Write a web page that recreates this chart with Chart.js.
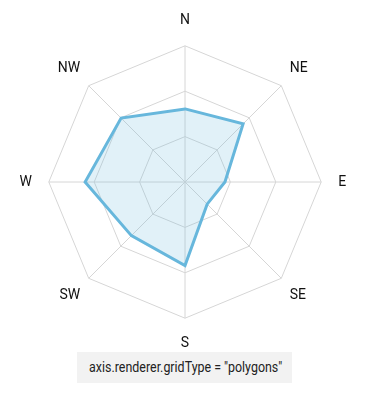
<!DOCTYPE html>
<html lang="en">
<head>
  <meta charset="UTF-8" />
  <title>Radar polygons</title>
  <script src="https://cdn.jsdelivr.net/npm/chart.js"></script>
  <style>
    body {
      margin: 0;
      width: 368px;
      height: 401px;
      background: #fff;
      position: relative;
      overflow: hidden;
      font-family: 'Roboto', sans-serif;
    }

    #wrap {
      position: absolute;
      left: 13px;
      top: 13px;
      width: 340px;
      height: 340px;
    }

    #wrap canvas {
      display: block;
    }

    .caption {
      position: absolute;
      left: 77px;
      top: 352px;
      width: 215px;
      height: 31px;
      line-height: 31px;
      background: #f2f2f2;
      color: #222;
      font-size: 14px;
      text-align: center;
      white-space: nowrap;
    }

    .caption span {
      display: inline-block;
      transform-origin: center;
    }
  </style>
</head>
<body>
  <div id="wrap"><canvas id="radar" width="340" height="340"></canvas></div>
  <div class="caption"><span id="capText">axis.renderer.gridType = "polygons"</span></div>

  <script>
    const directions = ['N', 'NE', 'E', 'SE', 'S', 'SW', 'W', 'NW'];
    const values = [1.61, 1.81, 0.88, 0.69, 1.84, 1.67, 2.2, 1.99];
    const ringTicks = [0, 1, 2, 3];

    // the caption font in the original is a narrow face, squeeze roboto to the same width
    const cap = document.getElementById('capText');
    cap.style.transform = 'scaleX(' + (193 / cap.offsetWidth).toFixed(3) + ')';

    const ctx = document.getElementById('radar').getContext('2d');
    new Chart(ctx, {
      type: 'radar',
      data: {
        labels: directions,
        datasets: [{
          data: values,
          borderColor: '#67b7dc',
          backgroundColor: 'rgba(103, 183, 220, 0.2)',
          borderWidth: 3,
          pointRadius: 0,
          pointHoverRadius: 0,
          fill: true
        }]
      },
      options: {
        responsive: false,
        devicePixelRatio: 1,
        animation: false,
        plugins: {
          legend: { display: false },
          tooltip: { enabled: false }
        },
        scales: {
          r: {
            min: ringTicks[0],
            max: ringTicks[ringTicks.length - 1],
            ticks: { display: false, stepSize: 1 },
            grid: { color: '#d6d6d6', lineWidth: 1 },
            angleLines: { color: '#d6d6d6', lineWidth: 1 },
            pointLabels: {
              color: '#111',
              font: { family: 'Roboto', size: 14 },
              // diagonals sit a bit closer to the grid
              padding: (c) => (c.index % 2 ? 12 : 17)
            }
          }
        }
      }
    });
  </script>
</body>
</html>
